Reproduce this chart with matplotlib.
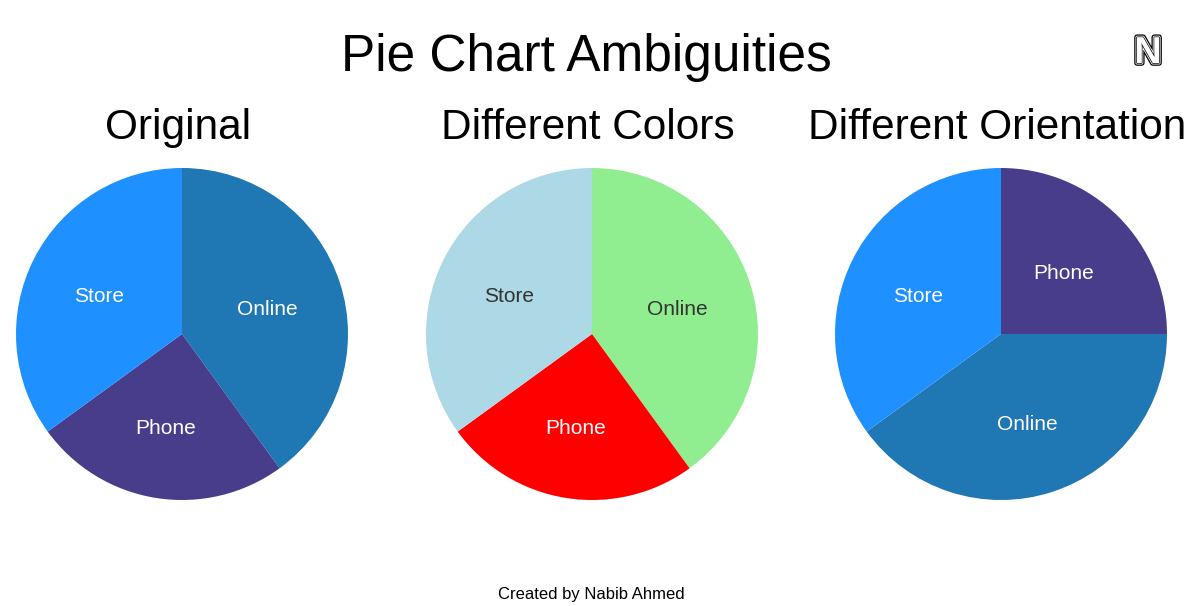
import matplotlib.pyplot as plt
import matplotlib.patheffects as pe
from matplotlib.transforms import offset_copy

plt.rcParams['font.family'] = ['Liberation Sans', 'DejaVu Sans']

# data
labels_orig = ['Online', 'Phone', 'Store']
values_orig = [40, 25, 35]
colors_orig = ['#1f77b4', '#483d8b', '#1e90ff']

labels_col = ['Online', 'Phone', 'Store']
values_col = [40, 25, 35]
colors_col = ['#90ee90', '#ff0000', '#add8e6']
text_col = ['#333333', 'white', '#333333']

labels_rot = ['Phone', 'Online', 'Store']
values_rot = [25, 40, 35]
colors_rot = ['#483d8b', '#1f77b4', '#1e90ff']

titles = ['Original', 'Different Colors', 'Different Orientation']

W, H = 1200, 606
fig = plt.figure(figsize=(W / 100, H / 100), dpi=100)

centers = [182, 592, 1001]
r = 166
cy = 272
lim = 1.015
size = r * lim * 2


def draw(cx, labels, values, colors, tcolors):
    ax = fig.add_axes([(cx - size / 2) / W, (cy - size / 2) / H, size / W, size / H])
    lab = iter(labels)
    wedges, texts, autotexts = ax.pie(values, colors=colors, startangle=90, counterclock=False,
                                      autopct=lambda p: next(lab), pctdistance=0.55,
                                      wedgeprops=dict(linewidth=0))
    for t, c in zip(autotexts, tcolors):
        t.set_color(c)
        t.set_fontsize(15)
        t.set_transform(offset_copy(ax.transData, fig=fig, x=-2, y=-4, units='dots'))
    ax.set_xlim(-lim, lim)
    ax.set_ylim(-lim, lim)
    ax.set_aspect('equal')
    ax.axis('off')


draw(centers[0], labels_orig, values_orig, colors_orig, ['white'] * 3)
draw(centers[1], labels_col, values_col, colors_col, text_col)
draw(centers[2], labels_rot, values_rot, colors_rot, ['white'] * 3)

title_x = [178, 588, 997]
for x, t in zip(title_x, titles):
    fig.text(x / W, 1 - 128 / H, t, ha='center', va='center', fontsize=30.5)

fig.text(586 / W, 1 - 57 / H, 'Pie Chart Ambiguities', ha='center', va='center', fontsize=37)
fig.text(591 / W, 1 - 595 / H, 'Created by Nabib Ahmed', ha='center', va='center', fontsize=12)

# logo
logo = fig.text(1148 / W, 1 - 53 / H, 'N', ha='center', va='center', fontsize=27,
                color='white', fontweight='bold')
logo.set_path_effects([pe.Stroke(linewidth=4, foreground='black'),
                       pe.Stroke(linewidth=2.2, foreground='white'),
                       pe.Stroke(linewidth=1.0, foreground='black'),
                       pe.Normal()])

fig.savefig('out.png', dpi=100, facecolor='white')
